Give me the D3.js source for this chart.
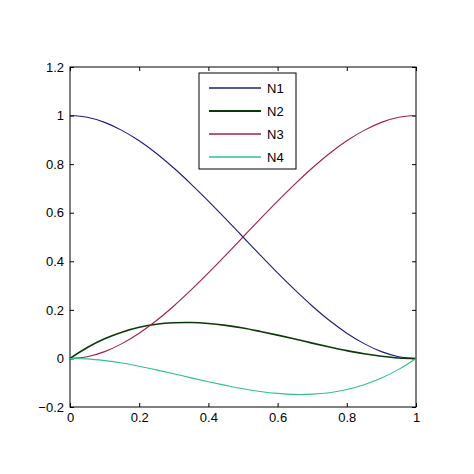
<!DOCTYPE html>
<html><head><meta charset="utf-8">
<script src="https://cdn.jsdelivr.net/npm/d3@7"></script>
<style>body{margin:0;background:#fff}text{font-family:"Liberation Sans",Arial,sans-serif}</style>
</head><body>
<svg id="chart" width="474" height="474"></svg>
<script>
// values
var xs = [0,.05,.1,.15,.2,.25,.3,.35,.4,.45,.5,.55,.6,.65,.7,.75,.8,.85,.9,.95,1];
var n1 = [1,.993,.972,.939,.896,.844,.784,.718,.648,.575,.5,.425,.352,.282,.216,.156,.104,.061,.028,.007,0];
var n2 = [0,.045,.081,.108,.128,.141,.147,.148,.144,.136,.125,.111,.096,.080,.063,.047,.032,.019,.009,.002,0];
var n3 = [0,.007,.028,.061,.104,.156,.216,.282,.352,.425,.5,.575,.648,.718,.784,.844,.896,.939,.972,.993,1];
var n4 = [0,-.002,-.009,-.019,-.032,-.047,-.063,-.080,-.096,-.111,-.125,-.136,-.144,-.148,-.147,-.141,-.128,-.108,-.081,-.045,0];
var names = ["N1","N2","N3","N4"];
var colors = ["#1c1c80","#0a3a0a","#a02048","#30c090"];
var xTicks = [0,0.2,0.4,0.6,0.8,1];
var yTicks = [-0.2,0,0.2,0.4,0.6,0.8,1,1.2];

var svg = d3.select("#chart");
var L = 70, R = 416, T = 67, B = 407;
var x = d3.scaleLinear().domain([0,1]).range([L,R]);
var y = d3.scaleLinear().domain([-0.2,1.2]).range([B,T]);

function axis(g, a) { g.call(a); g.select(".domain").remove(); g.selectAll("text").attr("font-size",13).attr("fill","#000"); }
svg.append("g").attr("transform","translate(0,"+B+")").call(axis, d3.axisBottom(x).tickValues(xTicks).tickSizeInner(-4).tickPadding(6).tickFormat(d3.format("")));
svg.append("g").attr("transform","translate("+L+",0)").call(axis, d3.axisLeft(y).tickValues(yTicks).tickSizeInner(-4).tickPadding(6).tickFormat(d3.format("")));
svg.append("g").attr("transform","translate(0,"+T+")").call(axis, d3.axisTop(x).tickValues(xTicks).tickSizeInner(-4).tickFormat(""));
svg.append("g").attr("transform","translate("+R+",0)").call(axis, d3.axisRight(y).tickValues(yTicks).tickSizeInner(-4).tickFormat(""));
svg.append("rect").attr("x",L).attr("y",T).attr("width",R-L).attr("height",B-T).attr("fill","none").attr("stroke","#000");

var series = [n1,n2,n3,n4];
var line = d3.line().x(function(d,i){ return x(xs[i]); }).y(function(d){ return y(d); }).curve(d3.curveCatmullRom);
series.forEach(function(s,k){
	svg.append("path").datum(s).attr("d",line).attr("fill","none").attr("stroke",colors[k]).attr("stroke-width",k==1?1.6:1.1);
});

// legend
var lg = svg.append("g").attr("transform","translate(199,73)");
lg.append("rect").attr("width",97).attr("height",96).attr("fill","#fff").attr("stroke","#000");
names.forEach(function(n,k){
	var yy = 15 + k*23;
	lg.append("line").attr("x1",10).attr("x2",62).attr("y1",yy).attr("y2",yy).attr("stroke",colors[k]).attr("stroke-width",k==1?2:1.3);
	lg.append("text").attr("x",68).attr("y",yy+5).attr("font-size",13).text(n);
});
</script>
</body></html>
